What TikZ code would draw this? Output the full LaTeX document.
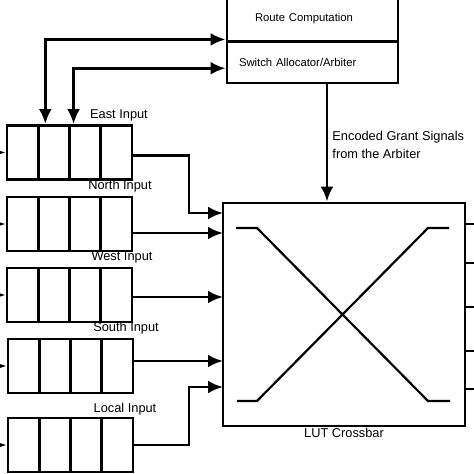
\documentclass[tikz,border=0pt]{standalone}
\usepackage{fontspec}
\setmainfont{Liberation Sans}
\usetikzlibrary{calc,arrows.meta}
\tikzset{>={Latex[length=15pt,width=13pt]}}

\begin{document}
\begin{tikzpicture}[x=1pt,y=-1pt,
    thick line/.style={line width=2.9pt},
    cell/.style={draw,thick line,minimum width=31.25pt,minimum height=54pt,inner sep=0pt},
    unit/.style={draw,thick line,align=left,font=\fontsize{11.3}{13}\selectfont},
    lbl/.style={font=\fontsize{12.8}{18}\selectfont,inner sep=0pt}]
  \useasboundingbox (0,0) rectangle (474,474);
  \clip (0,0) rectangle (474,474);
  % route computation / switch allocator
  \node[unit,minimum height=46.5pt,text width=115pt,inner xsep=28pt] (route) at (312.5,18.25) {Route Computation};
  \node[unit,minimum height=41.5pt,text width=147pt,inner xsep=12pt] (switch) at (312.5,62.25) {Switch Allocator/Arbiter};
  % crossbar
  \node[draw,thick line,minimum width=242pt,minimum height=223pt] (xbar) at (344,314.5) {};
  \node[lbl,anchor=north] (xbarlbl) at ([yshift=-1pt]xbar.south) {LUT Crossbar};
  \draw[line width=2.2pt] (236,228) -- (257,228) -- (428,401) -- (450,401);
  \draw[line width=2.2pt] (237,401) -- (257,401) -- (428,228) -- (449,228);
  \foreach \i/\y in {1/213,2/233,3/297,4/361,5/387}
    \coordinate (in\i) at (223,\y);
  \foreach \i/\y in {1/224,2/263,3/307,4/351,5/389}
    \coordinate (out\i) at (465,\y);
  % input buffers
  \foreach \buf/\x/\y/\lx/\ly/\txt in {east/7/152.5/119/115/East Input,
      north/7/224/120/186/North Input, west/7/295/122/257/West Input,
      south/8/366/126/328/South Input, local/8/445/125/409/Local Input}
  {
    \foreach \i in {1,...,4}
      \node[cell] (\buf\i) at ({\x+31.25*\i-15.625},\y) {};
    \node[lbl] (\buf lbl) at (\lx,\ly) {\txt};
    \draw[thick line,->] ([xshift=-20pt]\buf1.west) -- (\buf1.west);
  }
  % requests to the arbiter
  \draw[thick line,<->] ($(east2.north west)+(8.5,0)$) |- ($(route.south west)+(0,-3.5)$);
  \draw[thick line,<->] ($(east3.north west)+(5.5,0)$) |- ($(switch.west)+(0,6)$);
  % grant signals
  \coordinate (grant) at (327,83);
  \draw[thick line,->] (grant) -- (grant |- xbar.north)
    node[lbl,midway,right=4pt,yshift=-3pt,align=left] {Encoded Grant Signals\\from the Arbiter};
  % buffers to crossbar
  \draw[thick line,->] ([yshift=-3pt]east4.east) -| ($(in1)+(-34,0)$) -- (in1);
  \draw[thick line,->] (north4.east |- in2) -- (in2);
  \draw[thick line,->] (west4.east |- in3) -- (in3);
  \draw[thick line,->] (south4.east |- in4) -- (in4);
  \draw[thick line,->] (local4.east) -| ($(in5)+(-34,0)$) -- (in5);
  \foreach \i in {1,...,5}
    \draw[thick line] (out\i) -- ++(15,0);
\end{tikzpicture}
\end{document}
